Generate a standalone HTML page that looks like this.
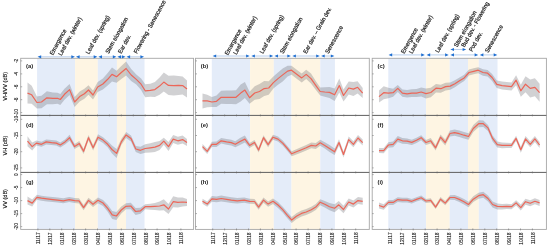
<!DOCTYPE html>
<html><head><meta charset="utf-8"><style>
html,body{margin:0;padding:0;background:#fff;}
body{width:550px;height:248px;overflow:hidden;}
svg{display:block;}
</style></head><body>
<svg width="550" height="248" viewBox="0 0 550 248">
<rect width="550" height="248" fill="#fff"/>
<rect x="37.1" y="58.3" width="38" height="171.1" fill="#e4ecf9"/>
<rect x="75.1" y="58.3" width="22.7" height="171.1" fill="#fef5e3"/>
<rect x="97.8" y="58.3" width="19.1" height="171.1" fill="#e4ecf9"/>
<rect x="116.9" y="58.3" width="9.1" height="171.1" fill="#fef5e3"/>
<rect x="126" y="58.3" width="18.5" height="171.1" fill="#e4ecf9"/>
<rect x="211.8" y="58.3" width="38.3" height="171.1" fill="#e4ecf9"/>
<rect x="250.1" y="58.3" width="23.7" height="171.1" fill="#fef5e3"/>
<rect x="273.8" y="58.3" width="17.7" height="171.1" fill="#e4ecf9"/>
<rect x="291.5" y="58.3" width="28.8" height="171.1" fill="#fef5e3"/>
<rect x="320.3" y="58.3" width="14.6" height="171.1" fill="#e4ecf9"/>
<rect x="388.3" y="58.3" width="37.8" height="171.1" fill="#e4ecf9"/>
<rect x="426.1" y="58.3" width="23.6" height="171.1" fill="#fef5e3"/>
<rect x="449.7" y="58.3" width="18.3" height="171.1" fill="#e4ecf9"/>
<rect x="468" y="58.3" width="10.8" height="171.1" fill="#fef5e3"/>
<rect x="478.8" y="58.3" width="18.7" height="171.1" fill="#e4ecf9"/>
<path d="M27.5,82.6 L31.7,85.8 L36.9,96.5 L41.5,95.8 L46.9,91.3 L52.8,92.4 L57.5,92.8 L60.3,94 L64.5,88.8 L69.6,84.1 L74.6,97 L79.7,91.6 L84.4,88.8 L88.5,85.2 L93,90.5 L97.7,82 L102.9,78.5 L107.7,73 L112,67.4 L116.6,70.7 L121.3,66 L126.1,61.5 L131.2,69 L136.3,74.4 L141.1,78.4 L145.2,84.3 L150.3,83.8 L154.9,82.1 L159.6,77.5 L163.8,72.6 L168.5,75.7 L173.7,75.6 L178.4,75.9 L182.6,76.6 L187,80.4 L187,97.4 L182.6,94.6 L178.4,94.9 L173.7,95.6 L168.5,95.1 L163.8,91.6 L159.6,94.7 L154.9,97.1 L150.3,96.8 L145.2,97.3 L141.1,90 L136.3,84.4 L131.2,81 L126.1,75.5 L121.3,79 L116.6,82.7 L112,81.4 L107.7,85.6 L102.9,89.5 L97.7,92 L93,99.5 L88.5,94.8 L84.4,98.8 L79.7,101.6 L74.6,107 L69.6,95.1 L64.5,99.8 L60.3,105 L57.5,103.8 L52.8,104.2 L46.9,104.3 L41.5,108.2 L36.9,108.5 L31.7,103.8 L27.5,103.6Z" fill="rgba(70,70,78,0.25)"/>
<path d="M27.5,136.2 L32.2,142.6 L36.4,140.6 L41.5,141.8 L46.2,139.4 L51.6,140.1 L56.3,140.6 L60.3,142.5 L65,139.4 L69.6,134.7 L74.6,144.1 L79.3,141 L83.6,148.7 L88.5,135 L93.1,145 L98,134.3 L103,137.2 L107.7,141.3 L112,145.5 L116.6,148.9 L121.3,138.9 L126.1,131.9 L131,135.6 L135.8,146 L140.5,146.7 L145.2,144.3 L150.3,143.2 L154.9,142.1 L159.6,140.9 L163.8,137.7 L168.5,142.1 L173.2,135.1 L177.9,136.8 L182.6,135.6 L187,139.1 L187,146.1 L182.6,143.6 L177.9,144.8 L173.2,143.1 L168.5,151.1 L163.8,144.7 L159.6,149.9 L154.9,152.1 L150.3,152.4 L145.2,152.7 L140.5,153.9 L135.8,152 L131,141.6 L126.1,137.9 L121.3,144.9 L116.6,157.9 L112,153.5 L107.7,147.3 L103,143 L98,140.1 L93.1,150.6 L88.5,140.4 L83.6,153.9 L79.3,146.2 L74.6,149.1 L69.6,140.7 L65,144.4 L60.3,147.5 L56.3,145.6 L51.6,145.1 L46.2,144.4 L41.5,146.8 L36.4,145.6 L32.2,150.6 L27.5,146.2Z" fill="rgba(70,70,78,0.25)"/>
<path d="M27.5,196.6 L32.2,199.6 L36.9,194.8 L41.5,195.7 L46.9,196.4 L52.8,197.1 L57.5,197.6 L63.3,198.3 L69.2,197.1 L74.6,198.1 L79,198.3 L83.6,204.9 L88.5,197.7 L93,201.5 L98,197.4 L103,200 L107.7,204.8 L112.2,210.9 L116.4,212 L121.3,206.5 L126,203.3 L130.8,202.8 L135.6,208 L140.5,207.8 L145.2,204.2 L150.3,203.7 L154.9,202.9 L159.6,201.5 L163.8,199.3 L168.5,204 L173.2,196.2 L177.9,197.4 L182.6,197.5 L187,198.9 L187,205.9 L182.6,206.5 L177.9,207.4 L173.2,207.2 L168.5,214 L163.8,210.3 L159.6,210.5 L154.9,209.9 L150.3,209.7 L145.2,209.2 L140.5,213.8 L135.6,215 L130.8,209.2 L126,209.3 L121.3,213.5 L116.4,220 L112.2,218.9 L107.7,211.8 L103,206 L98,203.2 L93,207.1 L88.5,203.1 L83.6,210.3 L79,203.5 L74.6,203.1 L69.2,202.1 L63.3,203.3 L57.5,202.6 L52.8,202.1 L46.9,201.4 L41.5,200.7 L36.9,199.8 L32.2,206.6 L27.5,204.6Z" fill="rgba(70,70,78,0.25)"/>
<path d="M202.5,93.4 L207.2,94.7 L211.9,97 L216.5,95.6 L221.2,90.8 L226.6,90.6 L231.3,90.5 L236,90.3 L240.7,84.6 L244.9,82.1 L249.6,91.8 L254.7,86.2 L259.5,84 L264.2,81.1 L268.7,81.2 L273.4,76.6 L278,72.4 L282.7,68.4 L287.6,65.7 L291.5,65.7 L296.4,69.4 L301.7,73.4 L306.2,69.7 L311,73.6 L316.1,81.4 L320.2,87.5 L324.8,87.3 L329.5,86.9 L334.6,88.5 L339.3,78.6 L343.5,89.5 L348.7,81.5 L353.4,82.1 L357.6,81.2 L362.7,88.1 L362.7,98.1 L357.6,93.4 L353.4,96.1 L348.7,94.5 L343.5,101.5 L339.3,92.6 L334.6,101.1 L329.5,97.9 L324.8,96.7 L320.2,95.5 L316.1,90.2 L311,83.6 L306.2,79.1 L301.7,82.4 L296.4,78.4 L291.5,74.7 L287.6,76.5 L282.7,81.4 L278,84.8 L273.4,88.6 L268.7,94.8 L264.2,96.1 L259.5,99 L254.7,99.8 L249.6,103.8 L244.9,98.1 L240.7,101.6 L236,104.3 L231.3,104.1 L226.6,104 L221.2,103.8 L216.5,107 L211.9,107 L207.2,107.2 L202.5,108.4Z" fill="rgba(70,70,78,0.25)"/>
<path d="M202.5,144.1 L207.2,148.7 L211.9,141.7 L216.5,141.6 L221.2,138 L226.6,139 L231.3,139.7 L235.3,141.3 L240,138 L244.9,135.6 L249.6,142.9 L254.5,140 L258.6,147.5 L263.5,135.2 L268.1,142.2 L273,134.7 L278,136.6 L282.7,140.6 L287.4,146 L291.7,151.3 L296.4,149.2 L301.5,147 L306.2,145 L311.3,142.6 L315.8,143.1 L320.2,139.8 L324.8,142.2 L329.5,145 L334.6,148.5 L339,139.3 L343.5,151.5 L348.7,136.6 L353.4,141.3 L358,135 L362.7,139.6 L362.7,145.6 L358,141 L353.4,147.3 L348.7,142.6 L343.5,157.5 L339,145.7 L334.6,155.1 L329.5,152 L324.8,148.6 L320.2,145.8 L315.8,148.9 L311.3,148.2 L306.2,150.6 L301.5,152.4 L296.4,154.4 L291.7,156.3 L287.4,151 L282.7,145.6 L278,141.6 L273,139.7 L268.1,147.2 L263.5,140.2 L258.6,152.5 L254.5,145 L249.6,147.9 L244.9,142.6 L240,145 L235.3,147.3 L231.3,145.5 L226.6,144.8 L221.2,143.6 L216.5,147 L211.9,146.9 L207.2,153.9 L202.5,149.1Z" fill="rgba(70,70,78,0.25)"/>
<path d="M202.5,198.8 L207.2,201.5 L211.9,196.1 L216.5,196.5 L221.2,195.5 L226.6,196.5 L231.3,197.3 L237.2,198.1 L244.2,197.5 L249.6,198.8 L254.5,198.9 L258.6,204.5 L263.5,197.4 L268.1,201.4 L273,198.5 L278,202.1 L282.7,206.8 L287.4,212.3 L291.7,217 L296.4,213.3 L301.5,210.4 L306.2,209 L311.3,206.7 L315.8,204.1 L320.2,199.2 L324.8,201 L329.5,203.1 L334.6,204.3 L338.8,200.9 L343.5,205.8 L348.7,198.5 L353.4,200.6 L358,197.1 L362.7,197.8 L362.7,204.8 L358,204.1 L353.4,207.6 L348.7,205.5 L343.5,213.2 L338.8,208.7 L334.6,212.3 L329.5,210.3 L324.8,207.6 L320.2,205.2 L315.8,210.1 L311.3,212.7 L306.2,215 L301.5,216.4 L296.4,219.3 L291.7,223 L287.4,218.3 L282.7,212.6 L278,207.9 L273,204.1 L268.1,206.8 L263.5,202.8 L258.6,209.7 L254.5,204.1 L249.6,203.8 L244.2,202.7 L237.2,203.5 L231.3,202.9 L226.6,202.3 L221.2,201.5 L216.5,202.3 L211.9,201.7 L207.2,206.7 L202.5,203.8Z" fill="rgba(70,70,78,0.25)"/>
<path d="M379,90.6 L383.7,86.2 L388.4,87.8 L393.1,88.7 L397.8,84.9 L402.4,89.5 L407.1,90.1 L411.8,89.2 L416.5,89.1 L421.2,87.5 L426,88.6 L430.8,87.8 L436,83.9 L440.8,84.7 L445.6,82.8 L450.2,82.4 L454.9,80.3 L459.5,77.5 L464.2,74.7 L469,69.5 L473.7,68.3 L478.2,67.2 L483,69.3 L487.6,69.9 L492.1,74 L496.8,80.6 L502.1,81.6 L506.8,82.1 L511.5,82.6 L516.1,75.2 L520.8,84.8 L525.5,76.2 L530.2,79.4 L534.9,78.3 L539.6,83.7 L539.6,101.7 L534.9,96.3 L530.2,97.4 L525.5,92.2 L520.8,96.8 L516.1,85.2 L511.5,90.6 L506.8,90.1 L502.1,89.6 L496.8,88 L492.1,81 L487.6,76.5 L483,75.7 L478.2,73.2 L473.7,74.3 L469,75.5 L464.2,81.1 L459.5,84.1 L454.9,87.3 L450.2,89.8 L445.6,90.4 L440.8,92.7 L436,92.5 L430.8,97.2 L426,98.6 L421.2,96.5 L416.5,97.1 L411.8,97 L407.1,97.5 L402.4,96.7 L397.8,91.9 L393.1,96.7 L388.4,98.3 L383.7,99.2 L379,102.6Z" fill="rgba(70,70,78,0.25)"/>
<path d="M379,148.1 L383.7,148 L388.4,142.2 L393.1,141.4 L397.8,136.1 L402.4,137.9 L407.1,138.4 L411.8,139.7 L416.5,137.7 L421.2,135.2 L426,139.9 L430.7,138.1 L435.6,145.1 L440.5,134.4 L445.2,139.6 L450,130.5 L454.6,129.5 L459.3,130.5 L464,132 L468.5,133.2 L473.3,125.1 L478.6,120.2 L483.3,120.5 L488,124.9 L492.6,135.4 L497.3,141.6 L502.1,142.6 L506.8,142.7 L511.5,142.9 L516.1,135.7 L520.8,146.7 L525.5,135.9 L530.2,141.3 L534.9,135.9 L539.6,142 L539.6,148 L534.9,141.9 L530.2,147.3 L525.5,141.9 L520.8,152.7 L516.1,141.1 L511.5,147.9 L506.8,148.1 L502.1,148.2 L497.3,147.6 L492.6,141.4 L488,130.9 L483.3,127 L478.6,127.2 L473.3,131.9 L468.5,139.8 L464,138.4 L459.3,136.9 L454.6,135.7 L450,136.5 L445.2,145.4 L440.5,140 L435.6,150.6 L430.7,143.5 L426,145.1 L421.2,140.2 L416.5,142.9 L411.8,145.1 L407.1,144 L402.4,143.7 L397.8,142.1 L393.1,147.2 L388.4,147.8 L383.7,153.2 L379,153.1Z" fill="rgba(70,70,78,0.25)"/>
<path d="M379,202.5 L383.7,204.3 L388.4,199.9 L393.1,199.9 L397.8,197.2 L402.4,197.7 L407.1,197.8 L411.8,199 L416.5,197.2 L421.2,195.6 L426,198.9 L430.7,198.2 L435.6,205.1 L440.5,197.1 L445.2,200.9 L450,195.2 L454.6,195.1 L459.3,196.8 L464,199 L468.5,201.7 L473.3,196.3 L478.6,192.7 L483.3,191.7 L488,195.5 L492.6,201.5 L497.3,203.4 L502.1,203.9 L506.8,203.7 L511.5,204.2 L516.1,200.2 L520.8,204.6 L525.5,198.7 L530.2,200.3 L534.9,198.3 L539.6,199.9 L539.6,205.9 L534.9,204.3 L530.2,206.3 L525.5,204.7 L520.8,210.6 L516.1,205.6 L511.5,209.2 L506.8,209.1 L502.1,209.5 L497.3,209.4 L492.6,207.5 L488,201.5 L483.3,197.7 L478.6,198.7 L473.3,202.1 L468.5,207.3 L464,204.4 L459.3,202 L454.6,199.9 L450,199.8 L445.2,205.3 L440.5,201.3 L435.6,209.1 L430.7,202.4 L426,203.1 L421.2,200 L416.5,201.6 L411.8,203.6 L407.1,202.4 L402.4,202.5 L397.8,202 L393.1,204.9 L388.4,204.9 L383.7,209.8 L379,208.5Z" fill="rgba(70,70,78,0.25)"/>
<path d="M27.5,93.1 L31.7,94.8 L36.9,102.5 L41.5,102 L46.9,97.8 L52.8,98.3 L57.5,98.3 L60.3,99.5 L64.5,94.3 L69.6,89.6 L74.6,102 L79.7,96.6 L84.4,93.8 L88.5,90 L93,95 L97.7,87 L102.9,84 L107.7,79.3 L112,74.4 L116.6,76.7 L121.3,72.5 L126.1,68.5 L131.2,75 L136.3,79.4 L141.1,84.2 L145.2,90.8 L150.3,90.3 L154.9,89.6 L159.6,86.1 L163.8,82.1 L168.5,85.4 L173.7,85.6 L178.4,85.4 L182.6,85.6 L187,88.9" fill="none" stroke="#ec6658" stroke-width="1.2" stroke-linejoin="round"/>
<path d="M27.5,141.2 L32.2,146.6 L36.4,143.1 L41.5,144.3 L46.2,141.9 L51.6,142.6 L56.3,143.1 L60.3,145 L65,141.9 L69.6,137.7 L74.6,146.6 L79.3,143.6 L83.6,151.3 L88.5,137.7 L93.1,147.8 L98,137.2 L103,140.1 L107.7,144.3 L112,149.5 L116.6,153.4 L121.3,141.9 L126.1,134.9 L131,138.6 L135.8,149 L140.5,150.3 L145.2,148.5 L150.3,147.8 L154.9,147.1 L159.6,145.4 L163.8,141.2 L168.5,146.6 L173.2,139.1 L177.9,140.8 L182.6,139.6 L187,142.6" fill="none" stroke="#ec6658" stroke-width="1.2" stroke-linejoin="round"/>
<path d="M27.5,200.6 L32.2,203.1 L36.9,197.3 L41.5,198.2 L46.9,198.9 L52.8,199.6 L57.5,200.1 L63.3,200.8 L69.2,199.6 L74.6,200.6 L79,200.9 L83.6,207.6 L88.5,200.4 L93,204.3 L98,200.3 L103,203 L107.7,208.3 L112.2,214.9 L116.4,216 L121.3,210 L126,206.3 L130.8,206 L135.6,211.5 L140.5,210.8 L145.2,206.7 L150.3,206.7 L154.9,206.4 L159.6,206 L163.8,204.8 L168.5,209 L173.2,201.7 L177.9,202.4 L182.6,202 L187,202.4" fill="none" stroke="#ec6658" stroke-width="1.2" stroke-linejoin="round"/>
<path d="M202.5,100.9 L207.2,100.9 L211.9,102 L216.5,101.3 L221.2,97.3 L226.6,97.3 L231.3,97.3 L236,97.3 L240.7,93.1 L244.9,90.1 L249.6,97.8 L254.7,93 L259.5,91.5 L264.2,88.6 L268.7,88 L273.4,82.6 L278,78.6 L282.7,74.9 L287.6,71.1 L291.5,70.2 L296.4,73.9 L301.7,77.9 L306.2,74.4 L311,78.6 L316.1,85.8 L320.2,91.5 L324.8,92 L329.5,92.4 L334.6,94.8 L339.3,85.6 L343.5,95.5 L348.7,88 L353.4,89.1 L357.6,87.3 L362.7,93.1" fill="none" stroke="#ec6658" stroke-width="1.2" stroke-linejoin="round"/>
<path d="M202.5,146.6 L207.2,151.3 L211.9,144.3 L216.5,144.3 L221.2,140.8 L226.6,141.9 L231.3,142.6 L235.3,144.3 L240,141.5 L244.9,139.1 L249.6,145.4 L254.5,142.5 L258.6,150 L263.5,137.7 L268.1,144.7 L273,137.2 L278,139.1 L282.7,143.1 L287.4,148.5 L291.7,153.8 L296.4,151.8 L301.5,149.7 L306.2,147.8 L311.3,145.4 L315.8,146 L320.2,142.8 L324.8,145.4 L329.5,148.5 L334.6,151.8 L339,142.5 L343.5,154.5 L348.7,139.6 L353.4,144.3 L358,138 L362.7,142.6" fill="none" stroke="#ec6658" stroke-width="1.2" stroke-linejoin="round"/>
<path d="M202.5,201.3 L207.2,204.1 L211.9,198.9 L216.5,199.4 L221.2,198.5 L226.6,199.4 L231.3,200.1 L237.2,200.8 L244.2,200.1 L249.6,201.3 L254.5,201.5 L258.6,207.1 L263.5,200.1 L268.1,204.1 L273,201.3 L278,205 L282.7,209.7 L287.4,215.3 L291.7,220 L296.4,216.3 L301.5,213.4 L306.2,212 L311.3,209.7 L315.8,207.1 L320.2,202.2 L324.8,204.3 L329.5,206.7 L334.6,208.3 L338.8,204.8 L343.5,209.5 L348.7,202 L353.4,204.1 L358,200.6 L362.7,201.3" fill="none" stroke="#ec6658" stroke-width="1.2" stroke-linejoin="round"/>
<path d="M379,96.6 L383.7,92.7 L388.4,93.1 L393.1,92.7 L397.8,88.4 L402.4,93.1 L407.1,93.8 L411.8,93.1 L416.5,93.1 L421.2,92 L426,93.6 L430.8,92.5 L436,88.2 L440.8,88.7 L445.6,86.6 L450.2,86.1 L454.9,83.8 L459.5,80.8 L464.2,77.9 L469,72.5 L473.7,71.3 L478.2,70.2 L483,72.5 L487.6,73.2 L492.1,77.5 L496.8,84.3 L502.1,85.6 L506.8,86.1 L511.5,86.6 L516.1,80.2 L520.8,90.8 L525.5,84.2 L530.2,88.4 L534.9,87.3 L539.6,92.7" fill="none" stroke="#ec6658" stroke-width="1.2" stroke-linejoin="round"/>
<path d="M379,150.6 L383.7,150.6 L388.4,145 L393.1,144.3 L397.8,139.1 L402.4,140.8 L407.1,141.2 L411.8,142.4 L416.5,140.3 L421.2,137.7 L426,142.5 L430.7,140.8 L435.6,147.8 L440.5,137.2 L445.2,142.5 L450,133.5 L454.6,132.6 L459.3,133.7 L464,135.2 L468.5,136.5 L473.3,128.5 L478.6,123.7 L483.3,123.7 L488,127.9 L492.6,138.4 L497.3,144.6 L502.1,145.4 L506.8,145.4 L511.5,145.4 L516.1,138.4 L520.8,149.7 L525.5,138.9 L530.2,144.3 L534.9,138.9 L539.6,145" fill="none" stroke="#ec6658" stroke-width="1.2" stroke-linejoin="round"/>
<path d="M379,205.5 L383.7,207.1 L388.4,202.4 L393.1,202.4 L397.8,199.6 L402.4,200.1 L407.1,200.1 L411.8,201.3 L416.5,199.4 L421.2,197.8 L426,201 L430.7,200.3 L435.6,207.1 L440.5,199.2 L445.2,203.1 L450,197.5 L454.6,197.5 L459.3,199.4 L464,201.7 L468.5,204.5 L473.3,199.2 L478.6,195.7 L483.3,194.7 L488,198.5 L492.6,204.5 L497.3,206.4 L502.1,206.7 L506.8,206.4 L511.5,206.7 L516.1,202.9 L520.8,207.6 L525.5,201.7 L530.2,203.3 L534.9,201.3 L539.6,202.9" fill="none" stroke="#ec6658" stroke-width="1.2" stroke-linejoin="round"/>
<rect x="20.7" y="58.3" width="172.9" height="171.1" fill="none" stroke="#a6a6a6" stroke-width="0.9"/>
<line x1="20.7" y1="115.4" x2="193.6" y2="115.4" stroke="#5e5e5e" stroke-width="1"/>
<line x1="20.7" y1="172.4" x2="193.6" y2="172.4" stroke="#5e5e5e" stroke-width="1"/>
<line x1="37.9" y1="114.4" x2="37.9" y2="116.4" stroke="#666" stroke-width="0.5"/>
<line x1="37.9" y1="171.4" x2="37.9" y2="173.4" stroke="#666" stroke-width="0.5"/>
<line x1="37.9" y1="228.4" x2="37.9" y2="230.4" stroke="#666" stroke-width="0.5"/>
<line x1="49.8" y1="114.4" x2="49.8" y2="116.4" stroke="#666" stroke-width="0.5"/>
<line x1="49.8" y1="171.4" x2="49.8" y2="173.4" stroke="#666" stroke-width="0.5"/>
<line x1="49.8" y1="228.4" x2="49.8" y2="230.4" stroke="#666" stroke-width="0.5"/>
<line x1="61.7" y1="114.4" x2="61.7" y2="116.4" stroke="#666" stroke-width="0.5"/>
<line x1="61.7" y1="171.4" x2="61.7" y2="173.4" stroke="#666" stroke-width="0.5"/>
<line x1="61.7" y1="228.4" x2="61.7" y2="230.4" stroke="#666" stroke-width="0.5"/>
<line x1="73.7" y1="114.4" x2="73.7" y2="116.4" stroke="#666" stroke-width="0.5"/>
<line x1="73.7" y1="171.4" x2="73.7" y2="173.4" stroke="#666" stroke-width="0.5"/>
<line x1="73.7" y1="228.4" x2="73.7" y2="230.4" stroke="#666" stroke-width="0.5"/>
<line x1="85.6" y1="114.4" x2="85.6" y2="116.4" stroke="#666" stroke-width="0.5"/>
<line x1="85.6" y1="171.4" x2="85.6" y2="173.4" stroke="#666" stroke-width="0.5"/>
<line x1="85.6" y1="228.4" x2="85.6" y2="230.4" stroke="#666" stroke-width="0.5"/>
<line x1="97.5" y1="114.4" x2="97.5" y2="116.4" stroke="#666" stroke-width="0.5"/>
<line x1="97.5" y1="171.4" x2="97.5" y2="173.4" stroke="#666" stroke-width="0.5"/>
<line x1="97.5" y1="228.4" x2="97.5" y2="230.4" stroke="#666" stroke-width="0.5"/>
<line x1="109.4" y1="114.4" x2="109.4" y2="116.4" stroke="#666" stroke-width="0.5"/>
<line x1="109.4" y1="171.4" x2="109.4" y2="173.4" stroke="#666" stroke-width="0.5"/>
<line x1="109.4" y1="228.4" x2="109.4" y2="230.4" stroke="#666" stroke-width="0.5"/>
<line x1="121.3" y1="114.4" x2="121.3" y2="116.4" stroke="#666" stroke-width="0.5"/>
<line x1="121.3" y1="171.4" x2="121.3" y2="173.4" stroke="#666" stroke-width="0.5"/>
<line x1="121.3" y1="228.4" x2="121.3" y2="230.4" stroke="#666" stroke-width="0.5"/>
<line x1="133.3" y1="114.4" x2="133.3" y2="116.4" stroke="#666" stroke-width="0.5"/>
<line x1="133.3" y1="171.4" x2="133.3" y2="173.4" stroke="#666" stroke-width="0.5"/>
<line x1="133.3" y1="228.4" x2="133.3" y2="230.4" stroke="#666" stroke-width="0.5"/>
<line x1="145.2" y1="114.4" x2="145.2" y2="116.4" stroke="#666" stroke-width="0.5"/>
<line x1="145.2" y1="171.4" x2="145.2" y2="173.4" stroke="#666" stroke-width="0.5"/>
<line x1="145.2" y1="228.4" x2="145.2" y2="230.4" stroke="#666" stroke-width="0.5"/>
<line x1="157.1" y1="114.4" x2="157.1" y2="116.4" stroke="#666" stroke-width="0.5"/>
<line x1="157.1" y1="171.4" x2="157.1" y2="173.4" stroke="#666" stroke-width="0.5"/>
<line x1="157.1" y1="228.4" x2="157.1" y2="230.4" stroke="#666" stroke-width="0.5"/>
<line x1="169" y1="114.4" x2="169" y2="116.4" stroke="#666" stroke-width="0.5"/>
<line x1="169" y1="171.4" x2="169" y2="173.4" stroke="#666" stroke-width="0.5"/>
<line x1="169" y1="228.4" x2="169" y2="230.4" stroke="#666" stroke-width="0.5"/>
<line x1="180.9" y1="114.4" x2="180.9" y2="116.4" stroke="#666" stroke-width="0.5"/>
<line x1="180.9" y1="171.4" x2="180.9" y2="173.4" stroke="#666" stroke-width="0.5"/>
<line x1="180.9" y1="228.4" x2="180.9" y2="230.4" stroke="#666" stroke-width="0.5"/>
<rect x="195.5" y="58.3" width="173.8" height="171.1" fill="none" stroke="#a6a6a6" stroke-width="0.9"/>
<line x1="195.5" y1="115.4" x2="369.3" y2="115.4" stroke="#5e5e5e" stroke-width="1"/>
<line x1="195.5" y1="172.4" x2="369.3" y2="172.4" stroke="#5e5e5e" stroke-width="1"/>
<line x1="212.7" y1="114.4" x2="212.7" y2="116.4" stroke="#666" stroke-width="0.5"/>
<line x1="212.7" y1="171.4" x2="212.7" y2="173.4" stroke="#666" stroke-width="0.5"/>
<line x1="212.7" y1="228.4" x2="212.7" y2="230.4" stroke="#666" stroke-width="0.5"/>
<line x1="224.6" y1="114.4" x2="224.6" y2="116.4" stroke="#666" stroke-width="0.5"/>
<line x1="224.6" y1="171.4" x2="224.6" y2="173.4" stroke="#666" stroke-width="0.5"/>
<line x1="224.6" y1="228.4" x2="224.6" y2="230.4" stroke="#666" stroke-width="0.5"/>
<line x1="236.5" y1="114.4" x2="236.5" y2="116.4" stroke="#666" stroke-width="0.5"/>
<line x1="236.5" y1="171.4" x2="236.5" y2="173.4" stroke="#666" stroke-width="0.5"/>
<line x1="236.5" y1="228.4" x2="236.5" y2="230.4" stroke="#666" stroke-width="0.5"/>
<line x1="248.5" y1="114.4" x2="248.5" y2="116.4" stroke="#666" stroke-width="0.5"/>
<line x1="248.5" y1="171.4" x2="248.5" y2="173.4" stroke="#666" stroke-width="0.5"/>
<line x1="248.5" y1="228.4" x2="248.5" y2="230.4" stroke="#666" stroke-width="0.5"/>
<line x1="260.4" y1="114.4" x2="260.4" y2="116.4" stroke="#666" stroke-width="0.5"/>
<line x1="260.4" y1="171.4" x2="260.4" y2="173.4" stroke="#666" stroke-width="0.5"/>
<line x1="260.4" y1="228.4" x2="260.4" y2="230.4" stroke="#666" stroke-width="0.5"/>
<line x1="272.3" y1="114.4" x2="272.3" y2="116.4" stroke="#666" stroke-width="0.5"/>
<line x1="272.3" y1="171.4" x2="272.3" y2="173.4" stroke="#666" stroke-width="0.5"/>
<line x1="272.3" y1="228.4" x2="272.3" y2="230.4" stroke="#666" stroke-width="0.5"/>
<line x1="284.2" y1="114.4" x2="284.2" y2="116.4" stroke="#666" stroke-width="0.5"/>
<line x1="284.2" y1="171.4" x2="284.2" y2="173.4" stroke="#666" stroke-width="0.5"/>
<line x1="284.2" y1="228.4" x2="284.2" y2="230.4" stroke="#666" stroke-width="0.5"/>
<line x1="296.1" y1="114.4" x2="296.1" y2="116.4" stroke="#666" stroke-width="0.5"/>
<line x1="296.1" y1="171.4" x2="296.1" y2="173.4" stroke="#666" stroke-width="0.5"/>
<line x1="296.1" y1="228.4" x2="296.1" y2="230.4" stroke="#666" stroke-width="0.5"/>
<line x1="308.1" y1="114.4" x2="308.1" y2="116.4" stroke="#666" stroke-width="0.5"/>
<line x1="308.1" y1="171.4" x2="308.1" y2="173.4" stroke="#666" stroke-width="0.5"/>
<line x1="308.1" y1="228.4" x2="308.1" y2="230.4" stroke="#666" stroke-width="0.5"/>
<line x1="320" y1="114.4" x2="320" y2="116.4" stroke="#666" stroke-width="0.5"/>
<line x1="320" y1="171.4" x2="320" y2="173.4" stroke="#666" stroke-width="0.5"/>
<line x1="320" y1="228.4" x2="320" y2="230.4" stroke="#666" stroke-width="0.5"/>
<line x1="331.9" y1="114.4" x2="331.9" y2="116.4" stroke="#666" stroke-width="0.5"/>
<line x1="331.9" y1="171.4" x2="331.9" y2="173.4" stroke="#666" stroke-width="0.5"/>
<line x1="331.9" y1="228.4" x2="331.9" y2="230.4" stroke="#666" stroke-width="0.5"/>
<line x1="343.8" y1="114.4" x2="343.8" y2="116.4" stroke="#666" stroke-width="0.5"/>
<line x1="343.8" y1="171.4" x2="343.8" y2="173.4" stroke="#666" stroke-width="0.5"/>
<line x1="343.8" y1="228.4" x2="343.8" y2="230.4" stroke="#666" stroke-width="0.5"/>
<line x1="355.7" y1="114.4" x2="355.7" y2="116.4" stroke="#666" stroke-width="0.5"/>
<line x1="355.7" y1="171.4" x2="355.7" y2="173.4" stroke="#666" stroke-width="0.5"/>
<line x1="355.7" y1="228.4" x2="355.7" y2="230.4" stroke="#666" stroke-width="0.5"/>
<rect x="372.2" y="58.3" width="174.2" height="171.1" fill="none" stroke="#a6a6a6" stroke-width="0.9"/>
<line x1="372.2" y1="115.4" x2="546.4" y2="115.4" stroke="#5e5e5e" stroke-width="1"/>
<line x1="372.2" y1="172.4" x2="546.4" y2="172.4" stroke="#5e5e5e" stroke-width="1"/>
<line x1="389.4" y1="114.4" x2="389.4" y2="116.4" stroke="#666" stroke-width="0.5"/>
<line x1="389.4" y1="171.4" x2="389.4" y2="173.4" stroke="#666" stroke-width="0.5"/>
<line x1="389.4" y1="228.4" x2="389.4" y2="230.4" stroke="#666" stroke-width="0.5"/>
<line x1="401.3" y1="114.4" x2="401.3" y2="116.4" stroke="#666" stroke-width="0.5"/>
<line x1="401.3" y1="171.4" x2="401.3" y2="173.4" stroke="#666" stroke-width="0.5"/>
<line x1="401.3" y1="228.4" x2="401.3" y2="230.4" stroke="#666" stroke-width="0.5"/>
<line x1="413.2" y1="114.4" x2="413.2" y2="116.4" stroke="#666" stroke-width="0.5"/>
<line x1="413.2" y1="171.4" x2="413.2" y2="173.4" stroke="#666" stroke-width="0.5"/>
<line x1="413.2" y1="228.4" x2="413.2" y2="230.4" stroke="#666" stroke-width="0.5"/>
<line x1="425.2" y1="114.4" x2="425.2" y2="116.4" stroke="#666" stroke-width="0.5"/>
<line x1="425.2" y1="171.4" x2="425.2" y2="173.4" stroke="#666" stroke-width="0.5"/>
<line x1="425.2" y1="228.4" x2="425.2" y2="230.4" stroke="#666" stroke-width="0.5"/>
<line x1="437.1" y1="114.4" x2="437.1" y2="116.4" stroke="#666" stroke-width="0.5"/>
<line x1="437.1" y1="171.4" x2="437.1" y2="173.4" stroke="#666" stroke-width="0.5"/>
<line x1="437.1" y1="228.4" x2="437.1" y2="230.4" stroke="#666" stroke-width="0.5"/>
<line x1="449" y1="114.4" x2="449" y2="116.4" stroke="#666" stroke-width="0.5"/>
<line x1="449" y1="171.4" x2="449" y2="173.4" stroke="#666" stroke-width="0.5"/>
<line x1="449" y1="228.4" x2="449" y2="230.4" stroke="#666" stroke-width="0.5"/>
<line x1="460.9" y1="114.4" x2="460.9" y2="116.4" stroke="#666" stroke-width="0.5"/>
<line x1="460.9" y1="171.4" x2="460.9" y2="173.4" stroke="#666" stroke-width="0.5"/>
<line x1="460.9" y1="228.4" x2="460.9" y2="230.4" stroke="#666" stroke-width="0.5"/>
<line x1="472.8" y1="114.4" x2="472.8" y2="116.4" stroke="#666" stroke-width="0.5"/>
<line x1="472.8" y1="171.4" x2="472.8" y2="173.4" stroke="#666" stroke-width="0.5"/>
<line x1="472.8" y1="228.4" x2="472.8" y2="230.4" stroke="#666" stroke-width="0.5"/>
<line x1="484.8" y1="114.4" x2="484.8" y2="116.4" stroke="#666" stroke-width="0.5"/>
<line x1="484.8" y1="171.4" x2="484.8" y2="173.4" stroke="#666" stroke-width="0.5"/>
<line x1="484.8" y1="228.4" x2="484.8" y2="230.4" stroke="#666" stroke-width="0.5"/>
<line x1="496.7" y1="114.4" x2="496.7" y2="116.4" stroke="#666" stroke-width="0.5"/>
<line x1="496.7" y1="171.4" x2="496.7" y2="173.4" stroke="#666" stroke-width="0.5"/>
<line x1="496.7" y1="228.4" x2="496.7" y2="230.4" stroke="#666" stroke-width="0.5"/>
<line x1="508.6" y1="114.4" x2="508.6" y2="116.4" stroke="#666" stroke-width="0.5"/>
<line x1="508.6" y1="171.4" x2="508.6" y2="173.4" stroke="#666" stroke-width="0.5"/>
<line x1="508.6" y1="228.4" x2="508.6" y2="230.4" stroke="#666" stroke-width="0.5"/>
<line x1="520.5" y1="114.4" x2="520.5" y2="116.4" stroke="#666" stroke-width="0.5"/>
<line x1="520.5" y1="171.4" x2="520.5" y2="173.4" stroke="#666" stroke-width="0.5"/>
<line x1="520.5" y1="228.4" x2="520.5" y2="230.4" stroke="#666" stroke-width="0.5"/>
<line x1="532.4" y1="114.4" x2="532.4" y2="116.4" stroke="#666" stroke-width="0.5"/>
<line x1="532.4" y1="171.4" x2="532.4" y2="173.4" stroke="#666" stroke-width="0.5"/>
<line x1="532.4" y1="228.4" x2="532.4" y2="230.4" stroke="#666" stroke-width="0.5"/>
<line x1="20.7" y1="60.9" x2="22.2" y2="60.9" stroke="#777" stroke-width="0.6"/>
<line x1="20.7" y1="73.9" x2="22.2" y2="73.9" stroke="#777" stroke-width="0.6"/>
<line x1="20.7" y1="86.8" x2="22.2" y2="86.8" stroke="#777" stroke-width="0.6"/>
<line x1="20.7" y1="99.7" x2="22.2" y2="99.7" stroke="#777" stroke-width="0.6"/>
<line x1="20.7" y1="112.6" x2="22.2" y2="112.6" stroke="#777" stroke-width="0.6"/>
<line x1="20.7" y1="119.3" x2="22.2" y2="119.3" stroke="#777" stroke-width="0.6"/>
<line x1="20.7" y1="135.5" x2="22.2" y2="135.5" stroke="#777" stroke-width="0.6"/>
<line x1="20.7" y1="151.7" x2="22.2" y2="151.7" stroke="#777" stroke-width="0.6"/>
<line x1="20.7" y1="167.9" x2="22.2" y2="167.9" stroke="#777" stroke-width="0.6"/>
<line x1="20.7" y1="174.6" x2="22.2" y2="174.6" stroke="#777" stroke-width="0.6"/>
<line x1="20.7" y1="187.6" x2="22.2" y2="187.6" stroke="#777" stroke-width="0.6"/>
<line x1="20.7" y1="200.6" x2="22.2" y2="200.6" stroke="#777" stroke-width="0.6"/>
<line x1="20.7" y1="213.6" x2="22.2" y2="213.6" stroke="#777" stroke-width="0.6"/>
<line x1="20.7" y1="226.6" x2="22.2" y2="226.6" stroke="#777" stroke-width="0.6"/>
<line x1="195.5" y1="60.9" x2="197" y2="60.9" stroke="#777" stroke-width="0.6"/>
<line x1="195.5" y1="73.9" x2="197" y2="73.9" stroke="#777" stroke-width="0.6"/>
<line x1="195.5" y1="86.8" x2="197" y2="86.8" stroke="#777" stroke-width="0.6"/>
<line x1="195.5" y1="99.7" x2="197" y2="99.7" stroke="#777" stroke-width="0.6"/>
<line x1="195.5" y1="112.6" x2="197" y2="112.6" stroke="#777" stroke-width="0.6"/>
<line x1="195.5" y1="119.3" x2="197" y2="119.3" stroke="#777" stroke-width="0.6"/>
<line x1="195.5" y1="135.5" x2="197" y2="135.5" stroke="#777" stroke-width="0.6"/>
<line x1="195.5" y1="151.7" x2="197" y2="151.7" stroke="#777" stroke-width="0.6"/>
<line x1="195.5" y1="167.9" x2="197" y2="167.9" stroke="#777" stroke-width="0.6"/>
<line x1="195.5" y1="174.6" x2="197" y2="174.6" stroke="#777" stroke-width="0.6"/>
<line x1="195.5" y1="187.6" x2="197" y2="187.6" stroke="#777" stroke-width="0.6"/>
<line x1="195.5" y1="200.6" x2="197" y2="200.6" stroke="#777" stroke-width="0.6"/>
<line x1="195.5" y1="213.6" x2="197" y2="213.6" stroke="#777" stroke-width="0.6"/>
<line x1="195.5" y1="226.6" x2="197" y2="226.6" stroke="#777" stroke-width="0.6"/>
<line x1="372.2" y1="60.9" x2="373.7" y2="60.9" stroke="#777" stroke-width="0.6"/>
<line x1="372.2" y1="73.9" x2="373.7" y2="73.9" stroke="#777" stroke-width="0.6"/>
<line x1="372.2" y1="86.8" x2="373.7" y2="86.8" stroke="#777" stroke-width="0.6"/>
<line x1="372.2" y1="99.7" x2="373.7" y2="99.7" stroke="#777" stroke-width="0.6"/>
<line x1="372.2" y1="112.6" x2="373.7" y2="112.6" stroke="#777" stroke-width="0.6"/>
<line x1="372.2" y1="119.3" x2="373.7" y2="119.3" stroke="#777" stroke-width="0.6"/>
<line x1="372.2" y1="135.5" x2="373.7" y2="135.5" stroke="#777" stroke-width="0.6"/>
<line x1="372.2" y1="151.7" x2="373.7" y2="151.7" stroke="#777" stroke-width="0.6"/>
<line x1="372.2" y1="167.9" x2="373.7" y2="167.9" stroke="#777" stroke-width="0.6"/>
<line x1="372.2" y1="174.6" x2="373.7" y2="174.6" stroke="#777" stroke-width="0.6"/>
<line x1="372.2" y1="187.6" x2="373.7" y2="187.6" stroke="#777" stroke-width="0.6"/>
<line x1="372.2" y1="200.6" x2="373.7" y2="200.6" stroke="#777" stroke-width="0.6"/>
<line x1="372.2" y1="213.6" x2="373.7" y2="213.6" stroke="#777" stroke-width="0.6"/>
<line x1="372.2" y1="226.6" x2="373.7" y2="226.6" stroke="#777" stroke-width="0.6"/>
<text transform="translate(18.2,60.9) rotate(-90)" text-anchor="middle" font-size="4.8" fill="#1a1a1a" stroke="#1a1a1a" stroke-width="0.1" font-family="'Liberation Sans', Arial, sans-serif">-2</text>
<text transform="translate(18.2,73.9) rotate(-90)" text-anchor="middle" font-size="4.8" fill="#1a1a1a" stroke="#1a1a1a" stroke-width="0.1" font-family="'Liberation Sans', Arial, sans-serif">-4</text>
<text transform="translate(18.2,86.8) rotate(-90)" text-anchor="middle" font-size="4.8" fill="#1a1a1a" stroke="#1a1a1a" stroke-width="0.1" font-family="'Liberation Sans', Arial, sans-serif">-6</text>
<text transform="translate(18.2,99.7) rotate(-90)" text-anchor="middle" font-size="4.8" fill="#1a1a1a" stroke="#1a1a1a" stroke-width="0.1" font-family="'Liberation Sans', Arial, sans-serif">-8</text>
<text transform="translate(18.2,112.6) rotate(-90)" text-anchor="middle" font-size="4.8" fill="#1a1a1a" stroke="#1a1a1a" stroke-width="0.1" font-family="'Liberation Sans', Arial, sans-serif">-10</text>
<text transform="translate(18.2,119.3) rotate(-90)" text-anchor="middle" font-size="4.8" fill="#1a1a1a" stroke="#1a1a1a" stroke-width="0.1" font-family="'Liberation Sans', Arial, sans-serif">-10</text>
<text transform="translate(18.2,135.5) rotate(-90)" text-anchor="middle" font-size="4.8" fill="#1a1a1a" stroke="#1a1a1a" stroke-width="0.1" font-family="'Liberation Sans', Arial, sans-serif">-15</text>
<text transform="translate(18.2,151.7) rotate(-90)" text-anchor="middle" font-size="4.8" fill="#1a1a1a" stroke="#1a1a1a" stroke-width="0.1" font-family="'Liberation Sans', Arial, sans-serif">-20</text>
<text transform="translate(18.2,167.9) rotate(-90)" text-anchor="middle" font-size="4.8" fill="#1a1a1a" stroke="#1a1a1a" stroke-width="0.1" font-family="'Liberation Sans', Arial, sans-serif">-25</text>
<text transform="translate(18.2,174.6) rotate(-90)" text-anchor="middle" font-size="4.8" fill="#1a1a1a" stroke="#1a1a1a" stroke-width="0.1" font-family="'Liberation Sans', Arial, sans-serif">0</text>
<text transform="translate(18.2,187.6) rotate(-90)" text-anchor="middle" font-size="4.8" fill="#1a1a1a" stroke="#1a1a1a" stroke-width="0.1" font-family="'Liberation Sans', Arial, sans-serif">-5</text>
<text transform="translate(18.2,200.6) rotate(-90)" text-anchor="middle" font-size="4.8" fill="#1a1a1a" stroke="#1a1a1a" stroke-width="0.1" font-family="'Liberation Sans', Arial, sans-serif">-10</text>
<text transform="translate(18.2,213.6) rotate(-90)" text-anchor="middle" font-size="4.8" fill="#1a1a1a" stroke="#1a1a1a" stroke-width="0.1" font-family="'Liberation Sans', Arial, sans-serif">-15</text>
<text transform="translate(18.2,226.6) rotate(-90)" text-anchor="middle" font-size="4.8" fill="#1a1a1a" stroke="#1a1a1a" stroke-width="0.1" font-family="'Liberation Sans', Arial, sans-serif">-20</text>
<text transform="translate(6.8,86.3) rotate(-90)" text-anchor="middle" font-size="5.6" fill="#1a1a1a" stroke="#1a1a1a" stroke-width="0.15" font-family="'Liberation Sans', Arial, sans-serif">VH/VV (dB)</text>
<text transform="translate(6.8,145.5) rotate(-90)" text-anchor="middle" font-size="5.6" fill="#1a1a1a" stroke="#1a1a1a" stroke-width="0.15" font-family="'Liberation Sans', Arial, sans-serif">VH (dB)</text>
<text transform="translate(6.8,198.8) rotate(-90)" text-anchor="middle" font-size="5.6" fill="#1a1a1a" stroke="#1a1a1a" stroke-width="0.15" font-family="'Liberation Sans', Arial, sans-serif">VV (dB)</text>
<text x="26" y="67.9" font-size="5.9" font-weight="bold" fill="#1a1a1a" font-family="'Liberation Sans', Arial, sans-serif">(a)</text>
<text x="26" y="126.5" font-size="5.9" font-weight="bold" fill="#1a1a1a" font-family="'Liberation Sans', Arial, sans-serif">(d)</text>
<text x="26" y="184.2" font-size="5.9" font-weight="bold" fill="#1a1a1a" font-family="'Liberation Sans', Arial, sans-serif">(g)</text>
<text x="200.8" y="67.9" font-size="5.9" font-weight="bold" fill="#1a1a1a" font-family="'Liberation Sans', Arial, sans-serif">(b)</text>
<text x="200.8" y="126.5" font-size="5.9" font-weight="bold" fill="#1a1a1a" font-family="'Liberation Sans', Arial, sans-serif">(e)</text>
<text x="200.8" y="184.2" font-size="5.9" font-weight="bold" fill="#1a1a1a" font-family="'Liberation Sans', Arial, sans-serif">(h)</text>
<text x="377.5" y="67.9" font-size="5.9" font-weight="bold" fill="#1a1a1a" font-family="'Liberation Sans', Arial, sans-serif">(c)</text>
<text x="377.5" y="126.5" font-size="5.9" font-weight="bold" fill="#1a1a1a" font-family="'Liberation Sans', Arial, sans-serif">(f)</text>
<text x="377.5" y="184.2" font-size="5.9" font-weight="bold" fill="#1a1a1a" font-family="'Liberation Sans', Arial, sans-serif">(i)</text>
<text transform="translate(40.2,232.4) rotate(-90)" text-anchor="end" font-size="4.9" fill="#1a1a1a" stroke="#1a1a1a" stroke-width="0.1" font-family="'Liberation Sans', Arial, sans-serif">11/17</text>
<text transform="translate(52.1,232.4) rotate(-90)" text-anchor="end" font-size="4.9" fill="#1a1a1a" stroke="#1a1a1a" stroke-width="0.1" font-family="'Liberation Sans', Arial, sans-serif">12/17</text>
<text transform="translate(64,232.4) rotate(-90)" text-anchor="end" font-size="4.9" fill="#1a1a1a" stroke="#1a1a1a" stroke-width="0.1" font-family="'Liberation Sans', Arial, sans-serif">01/18</text>
<text transform="translate(76,232.4) rotate(-90)" text-anchor="end" font-size="4.9" fill="#1a1a1a" stroke="#1a1a1a" stroke-width="0.1" font-family="'Liberation Sans', Arial, sans-serif">02/18</text>
<text transform="translate(87.9,232.4) rotate(-90)" text-anchor="end" font-size="4.9" fill="#1a1a1a" stroke="#1a1a1a" stroke-width="0.1" font-family="'Liberation Sans', Arial, sans-serif">03/18</text>
<text transform="translate(99.8,232.4) rotate(-90)" text-anchor="end" font-size="4.9" fill="#1a1a1a" stroke="#1a1a1a" stroke-width="0.1" font-family="'Liberation Sans', Arial, sans-serif">04/18</text>
<text transform="translate(111.7,232.4) rotate(-90)" text-anchor="end" font-size="4.9" fill="#1a1a1a" stroke="#1a1a1a" stroke-width="0.1" font-family="'Liberation Sans', Arial, sans-serif">05/18</text>
<text transform="translate(123.6,232.4) rotate(-90)" text-anchor="end" font-size="4.9" fill="#1a1a1a" stroke="#1a1a1a" stroke-width="0.1" font-family="'Liberation Sans', Arial, sans-serif">06/18</text>
<text transform="translate(135.6,232.4) rotate(-90)" text-anchor="end" font-size="4.9" fill="#1a1a1a" stroke="#1a1a1a" stroke-width="0.1" font-family="'Liberation Sans', Arial, sans-serif">07/18</text>
<text transform="translate(147.5,232.4) rotate(-90)" text-anchor="end" font-size="4.9" fill="#1a1a1a" stroke="#1a1a1a" stroke-width="0.1" font-family="'Liberation Sans', Arial, sans-serif">08/18</text>
<text transform="translate(159.4,232.4) rotate(-90)" text-anchor="end" font-size="4.9" fill="#1a1a1a" stroke="#1a1a1a" stroke-width="0.1" font-family="'Liberation Sans', Arial, sans-serif">09/18</text>
<text transform="translate(171.3,232.4) rotate(-90)" text-anchor="end" font-size="4.9" fill="#1a1a1a" stroke="#1a1a1a" stroke-width="0.1" font-family="'Liberation Sans', Arial, sans-serif">10/18</text>
<text transform="translate(183.2,232.4) rotate(-90)" text-anchor="end" font-size="4.9" fill="#1a1a1a" stroke="#1a1a1a" stroke-width="0.1" font-family="'Liberation Sans', Arial, sans-serif">11/18</text>
<text transform="translate(215,232.4) rotate(-90)" text-anchor="end" font-size="4.9" fill="#1a1a1a" stroke="#1a1a1a" stroke-width="0.1" font-family="'Liberation Sans', Arial, sans-serif">11/17</text>
<text transform="translate(226.9,232.4) rotate(-90)" text-anchor="end" font-size="4.9" fill="#1a1a1a" stroke="#1a1a1a" stroke-width="0.1" font-family="'Liberation Sans', Arial, sans-serif">12/17</text>
<text transform="translate(238.8,232.4) rotate(-90)" text-anchor="end" font-size="4.9" fill="#1a1a1a" stroke="#1a1a1a" stroke-width="0.1" font-family="'Liberation Sans', Arial, sans-serif">01/18</text>
<text transform="translate(250.8,232.4) rotate(-90)" text-anchor="end" font-size="4.9" fill="#1a1a1a" stroke="#1a1a1a" stroke-width="0.1" font-family="'Liberation Sans', Arial, sans-serif">02/18</text>
<text transform="translate(262.7,232.4) rotate(-90)" text-anchor="end" font-size="4.9" fill="#1a1a1a" stroke="#1a1a1a" stroke-width="0.1" font-family="'Liberation Sans', Arial, sans-serif">03/18</text>
<text transform="translate(274.6,232.4) rotate(-90)" text-anchor="end" font-size="4.9" fill="#1a1a1a" stroke="#1a1a1a" stroke-width="0.1" font-family="'Liberation Sans', Arial, sans-serif">04/18</text>
<text transform="translate(286.5,232.4) rotate(-90)" text-anchor="end" font-size="4.9" fill="#1a1a1a" stroke="#1a1a1a" stroke-width="0.1" font-family="'Liberation Sans', Arial, sans-serif">05/18</text>
<text transform="translate(298.4,232.4) rotate(-90)" text-anchor="end" font-size="4.9" fill="#1a1a1a" stroke="#1a1a1a" stroke-width="0.1" font-family="'Liberation Sans', Arial, sans-serif">06/18</text>
<text transform="translate(310.4,232.4) rotate(-90)" text-anchor="end" font-size="4.9" fill="#1a1a1a" stroke="#1a1a1a" stroke-width="0.1" font-family="'Liberation Sans', Arial, sans-serif">07/18</text>
<text transform="translate(322.3,232.4) rotate(-90)" text-anchor="end" font-size="4.9" fill="#1a1a1a" stroke="#1a1a1a" stroke-width="0.1" font-family="'Liberation Sans', Arial, sans-serif">08/18</text>
<text transform="translate(334.2,232.4) rotate(-90)" text-anchor="end" font-size="4.9" fill="#1a1a1a" stroke="#1a1a1a" stroke-width="0.1" font-family="'Liberation Sans', Arial, sans-serif">09/18</text>
<text transform="translate(346.1,232.4) rotate(-90)" text-anchor="end" font-size="4.9" fill="#1a1a1a" stroke="#1a1a1a" stroke-width="0.1" font-family="'Liberation Sans', Arial, sans-serif">10/18</text>
<text transform="translate(358,232.4) rotate(-90)" text-anchor="end" font-size="4.9" fill="#1a1a1a" stroke="#1a1a1a" stroke-width="0.1" font-family="'Liberation Sans', Arial, sans-serif">11/18</text>
<text transform="translate(391.7,232.4) rotate(-90)" text-anchor="end" font-size="4.9" fill="#1a1a1a" stroke="#1a1a1a" stroke-width="0.1" font-family="'Liberation Sans', Arial, sans-serif">11/17</text>
<text transform="translate(403.6,232.4) rotate(-90)" text-anchor="end" font-size="4.9" fill="#1a1a1a" stroke="#1a1a1a" stroke-width="0.1" font-family="'Liberation Sans', Arial, sans-serif">12/17</text>
<text transform="translate(415.5,232.4) rotate(-90)" text-anchor="end" font-size="4.9" fill="#1a1a1a" stroke="#1a1a1a" stroke-width="0.1" font-family="'Liberation Sans', Arial, sans-serif">01/18</text>
<text transform="translate(427.5,232.4) rotate(-90)" text-anchor="end" font-size="4.9" fill="#1a1a1a" stroke="#1a1a1a" stroke-width="0.1" font-family="'Liberation Sans', Arial, sans-serif">02/18</text>
<text transform="translate(439.4,232.4) rotate(-90)" text-anchor="end" font-size="4.9" fill="#1a1a1a" stroke="#1a1a1a" stroke-width="0.1" font-family="'Liberation Sans', Arial, sans-serif">03/18</text>
<text transform="translate(451.3,232.4) rotate(-90)" text-anchor="end" font-size="4.9" fill="#1a1a1a" stroke="#1a1a1a" stroke-width="0.1" font-family="'Liberation Sans', Arial, sans-serif">04/18</text>
<text transform="translate(463.2,232.4) rotate(-90)" text-anchor="end" font-size="4.9" fill="#1a1a1a" stroke="#1a1a1a" stroke-width="0.1" font-family="'Liberation Sans', Arial, sans-serif">05/18</text>
<text transform="translate(475.1,232.4) rotate(-90)" text-anchor="end" font-size="4.9" fill="#1a1a1a" stroke="#1a1a1a" stroke-width="0.1" font-family="'Liberation Sans', Arial, sans-serif">06/18</text>
<text transform="translate(487.1,232.4) rotate(-90)" text-anchor="end" font-size="4.9" fill="#1a1a1a" stroke="#1a1a1a" stroke-width="0.1" font-family="'Liberation Sans', Arial, sans-serif">07/18</text>
<text transform="translate(499,232.4) rotate(-90)" text-anchor="end" font-size="4.9" fill="#1a1a1a" stroke="#1a1a1a" stroke-width="0.1" font-family="'Liberation Sans', Arial, sans-serif">08/18</text>
<text transform="translate(510.9,232.4) rotate(-90)" text-anchor="end" font-size="4.9" fill="#1a1a1a" stroke="#1a1a1a" stroke-width="0.1" font-family="'Liberation Sans', Arial, sans-serif">09/18</text>
<text transform="translate(522.8,232.4) rotate(-90)" text-anchor="end" font-size="4.9" fill="#1a1a1a" stroke="#1a1a1a" stroke-width="0.1" font-family="'Liberation Sans', Arial, sans-serif">10/18</text>
<text transform="translate(534.7,232.4) rotate(-90)" text-anchor="end" font-size="4.9" fill="#1a1a1a" stroke="#1a1a1a" stroke-width="0.1" font-family="'Liberation Sans', Arial, sans-serif">11/18</text>
<line x1="39.6" y1="56.8" x2="72.9" y2="56.8" stroke="#a8c4ea" stroke-width="0.8"/>
<path d="M37.6,56.8 L41.2,55.2 L41.2,58.4Z" fill="#1f6fd1"/>
<path d="M74.9,56.8 L71.3,55.2 L71.3,58.4Z" fill="#1f6fd1"/>
<line x1="78" y1="56.8" x2="95.3" y2="56.8" stroke="#a8c4ea" stroke-width="0.8"/>
<path d="M76,56.8 L79.6,55.2 L79.6,58.4Z" fill="#1f6fd1"/>
<path d="M97.3,56.8 L93.7,55.2 L93.7,58.4Z" fill="#1f6fd1"/>
<line x1="100.4" y1="56.8" x2="114.4" y2="56.8" stroke="#a8c4ea" stroke-width="0.8"/>
<path d="M98.4,56.8 L102,55.2 L102,58.4Z" fill="#1f6fd1"/>
<path d="M116.4,56.8 L112.8,55.2 L112.8,58.4Z" fill="#1f6fd1"/>
<line x1="119.4" y1="56.8" x2="123.5" y2="56.8" stroke="#a8c4ea" stroke-width="0.8"/>
<path d="M117.4,56.8 L121,55.2 L121,58.4Z" fill="#1f6fd1"/>
<path d="M125.5,56.8 L121.9,55.2 L121.9,58.4Z" fill="#1f6fd1"/>
<line x1="128.5" y1="56.8" x2="142" y2="56.8" stroke="#a8c4ea" stroke-width="0.8"/>
<path d="M126.5,56.8 L130.1,55.2 L130.1,58.4Z" fill="#1f6fd1"/>
<path d="M144,56.8 L140.4,55.2 L140.4,58.4Z" fill="#1f6fd1"/>
<line x1="214.6" y1="56" x2="247.7" y2="56" stroke="#a8c4ea" stroke-width="0.8"/>
<path d="M212.6,56 L216.2,54.4 L216.2,57.6Z" fill="#1f6fd1"/>
<path d="M249.7,56 L246.1,54.4 L246.1,57.6Z" fill="#1f6fd1"/>
<line x1="253.3" y1="56" x2="271.3" y2="56" stroke="#a8c4ea" stroke-width="0.8"/>
<path d="M251.3,56 L254.9,54.4 L254.9,57.6Z" fill="#1f6fd1"/>
<path d="M273.3,56 L269.7,54.4 L269.7,57.6Z" fill="#1f6fd1"/>
<line x1="276.4" y1="56" x2="288.9" y2="56" stroke="#a8c4ea" stroke-width="0.8"/>
<path d="M274.4,56 L278,54.4 L278,57.6Z" fill="#1f6fd1"/>
<path d="M290.9,56 L287.3,54.4 L287.3,57.6Z" fill="#1f6fd1"/>
<line x1="294.3" y1="56" x2="317.8" y2="56" stroke="#a8c4ea" stroke-width="0.8"/>
<path d="M292.3,56 L295.9,54.4 L295.9,57.6Z" fill="#1f6fd1"/>
<path d="M319.8,56 L316.2,54.4 L316.2,57.6Z" fill="#1f6fd1"/>
<line x1="323.1" y1="56" x2="332.4" y2="56" stroke="#a8c4ea" stroke-width="0.8"/>
<path d="M321.1,56 L324.7,54.4 L324.7,57.6Z" fill="#1f6fd1"/>
<path d="M334.4,56 L330.8,54.4 L330.8,57.6Z" fill="#1f6fd1"/>
<line x1="390.6" y1="54.9" x2="422.8" y2="54.9" stroke="#a8c4ea" stroke-width="0.8"/>
<path d="M388.6,54.9 L392.2,53.3 L392.2,56.5Z" fill="#1f6fd1"/>
<path d="M424.8,54.9 L421.2,53.3 L421.2,56.5Z" fill="#1f6fd1"/>
<line x1="428.6" y1="54.9" x2="446.7" y2="54.9" stroke="#a8c4ea" stroke-width="0.8"/>
<path d="M426.6,54.9 L430.2,53.3 L430.2,56.5Z" fill="#1f6fd1"/>
<path d="M448.7,54.9 L445.1,53.3 L445.1,56.5Z" fill="#1f6fd1"/>
<line x1="452.4" y1="54.9" x2="476.2" y2="54.9" stroke="#a8c4ea" stroke-width="0.8"/>
<path d="M450.4,54.9 L454,53.3 L454,56.5Z" fill="#1f6fd1"/>
<path d="M478.2,54.9 L474.6,53.3 L474.6,56.5Z" fill="#1f6fd1"/>
<line x1="481.8" y1="54.9" x2="495.3" y2="54.9" stroke="#a8c4ea" stroke-width="0.8"/>
<path d="M479.8,54.9 L483.4,53.3 L483.4,56.5Z" fill="#1f6fd1"/>
<path d="M497.3,54.9 L493.7,53.3 L493.7,56.5Z" fill="#1f6fd1"/>
<line x1="452.4" y1="49.5" x2="464.2" y2="49.5" stroke="#a8c4ea" stroke-width="0.8"/>
<path d="M450.4,49.5 L454,47.9 L454,51.1Z" fill="#1f6fd1"/>
<path d="M466.2,49.5 L462.6,47.9 L462.6,51.1Z" fill="#1f6fd1"/>
<text transform="translate(52.9,55.4) rotate(-61) scale(0.93,1)" font-size="6" fill="#1a1a1a" stroke="#1a1a1a" stroke-width="0.2" font-family="'Liberation Sans', Arial, sans-serif">Emergence</text>
<text transform="translate(61.5,55.9) rotate(-61) scale(0.93,1)" font-size="6" fill="#1a1a1a" stroke="#1a1a1a" stroke-width="0.2" font-family="'Liberation Sans', Arial, sans-serif">Leaf dev. (winter)</text>
<text transform="translate(89.1,54.4) rotate(-61) scale(0.93,1)" font-size="6" fill="#1a1a1a" stroke="#1a1a1a" stroke-width="0.2" font-family="'Liberation Sans', Arial, sans-serif">Leaf dev. (spring)</text>
<text transform="translate(108.8,53.9) rotate(-61) scale(0.93,1)" font-size="6" fill="#1a1a1a" stroke="#1a1a1a" stroke-width="0.2" font-family="'Liberation Sans', Arial, sans-serif">Stem elongation</text>
<text transform="translate(121.3,53.9) rotate(-61) scale(0.93,1)" font-size="6" fill="#1a1a1a" stroke="#1a1a1a" stroke-width="0.2" font-family="'Liberation Sans', Arial, sans-serif">Ear dev.</text>
<text transform="translate(137.1,53.9) rotate(-61) scale(0.93,1)" font-size="6" fill="#1a1a1a" stroke="#1a1a1a" stroke-width="0.2" font-family="'Liberation Sans', Arial, sans-serif">Flowering - Senescence</text>
<text transform="translate(228,55.4) rotate(-61) scale(0.93,1)" font-size="6" fill="#1a1a1a" stroke="#1a1a1a" stroke-width="0.2" font-family="'Liberation Sans', Arial, sans-serif">Emergence</text>
<text transform="translate(236.5,54.9) rotate(-61) scale(0.93,1)" font-size="6" fill="#1a1a1a" stroke="#1a1a1a" stroke-width="0.2" font-family="'Liberation Sans', Arial, sans-serif">Leaf dev. (winter)</text>
<text transform="translate(263.1,53.9) rotate(-61) scale(0.93,1)" font-size="6" fill="#1a1a1a" stroke="#1a1a1a" stroke-width="0.2" font-family="'Liberation Sans', Arial, sans-serif">Leaf dev. (spring)</text>
<text transform="translate(283.2,53.9) rotate(-61) scale(0.93,1)" font-size="6" fill="#1a1a1a" stroke="#1a1a1a" stroke-width="0.2" font-family="'Liberation Sans', Arial, sans-serif">Stem elongation</text>
<text transform="translate(306.5,53.9) rotate(-61) scale(0.93,1)" font-size="6" fill="#1a1a1a" stroke="#1a1a1a" stroke-width="0.2" font-family="'Liberation Sans', Arial, sans-serif">Ear dev. – Grain dev.</text>
<text transform="translate(328.5,53.9) rotate(-61) scale(0.93,1)" font-size="6" fill="#1a1a1a" stroke="#1a1a1a" stroke-width="0.2" font-family="'Liberation Sans', Arial, sans-serif">Senescence</text>
<text transform="translate(404.3,54.1) rotate(-61) scale(0.93,1)" font-size="6" fill="#1a1a1a" stroke="#1a1a1a" stroke-width="0.2" font-family="'Liberation Sans', Arial, sans-serif">Emergence</text>
<text transform="translate(412.3,53.9) rotate(-61) scale(0.93,1)" font-size="6" fill="#1a1a1a" stroke="#1a1a1a" stroke-width="0.2" font-family="'Liberation Sans', Arial, sans-serif">Leaf dev. (winter)</text>
<text transform="translate(438.6,53.1) rotate(-61) scale(0.93,1)" font-size="6" fill="#1a1a1a" stroke="#1a1a1a" stroke-width="0.2" font-family="'Liberation Sans', Arial, sans-serif">Leaf dev. (spring)</text>
<text transform="translate(457.3,47.6) rotate(-61) scale(0.93,1)" font-size="6" fill="#1a1a1a" stroke="#1a1a1a" stroke-width="0.2" font-family="'Liberation Sans', Arial, sans-serif">Stem elongation</text>
<text transform="translate(464.6,47.5) rotate(-61) scale(0.93,1)" font-size="6" fill="#1a1a1a" stroke="#1a1a1a" stroke-width="0.2" font-family="'Liberation Sans', Arial, sans-serif">Bud dev. - Flowering</text>
<text transform="translate(472.3,52.1) rotate(-61) scale(0.93,1)" font-size="6" fill="#1a1a1a" stroke="#1a1a1a" stroke-width="0.2" font-family="'Liberation Sans', Arial, sans-serif">Pod dev.</text>
<text transform="translate(488.3,53.1) rotate(-61) scale(0.93,1)" font-size="6" fill="#1a1a1a" stroke="#1a1a1a" stroke-width="0.2" font-family="'Liberation Sans', Arial, sans-serif">Senescence</text>
</svg>
</body></html>
